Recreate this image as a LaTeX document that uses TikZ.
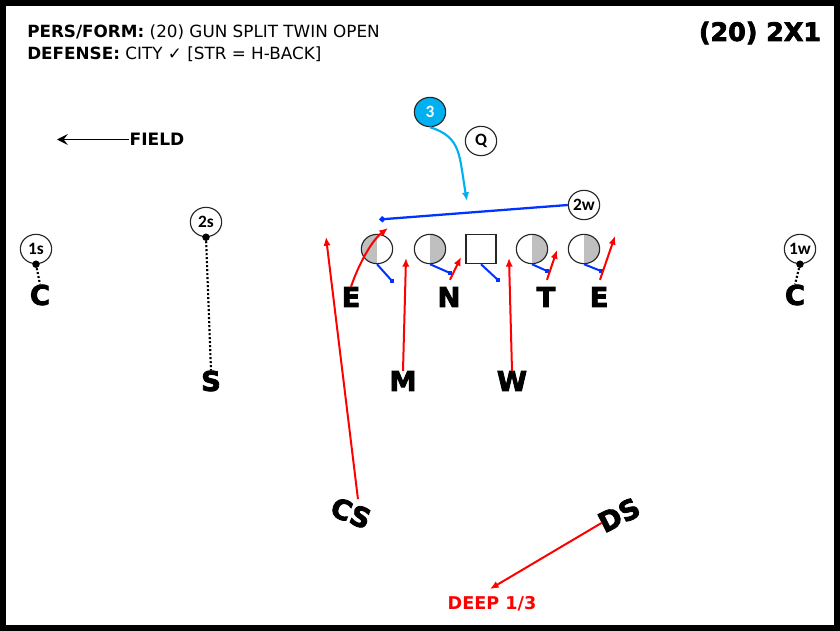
\documentclass[tikz,border=0pt]{standalone}
\usepackage{fontspec}
\setmainfont{DejaVu Sans}
\newfontfamily\circfont{Carlito}
\newfontfamily\heavyfont[FakeBold=3]{DejaVu Sans Bold}
\usetikzlibrary{shapes.geometric,arrows.meta}
\definecolor{routeblue}{HTML}{0033FF}
\definecolor{motioncyan}{HTML}{00B0F0}
\definecolor{halfgray}{HTML}{BFBFBF}
\tikzset{
	player/.style={draw=black!85, ellipse, line width=0.85pt, minimum width=23.5pt, minimum height=22pt, inner sep=0pt, font=\circfont\bfseries\fontsize{13}{13}\selectfont},
	lineman/.style={player, path picture={\fill [halfgray] (path picture bounding box.north) rectangle (path picture bounding box.south #1);}},
	defender/.style={inner sep=0pt, font=\heavyfont\fontsize{20.5}{21}\selectfont},
	block/.style={routeblue, line width=1.5pt},
	blocktip/.style={fill=routeblue, inner sep=0pt, minimum size=3.6pt},
	rush/.style={red, line width=1.5pt, -{Latex[length=6.5pt,width=5.5pt]}},
	release/.style={black, line width=1.6pt, dash pattern=on 1.5pt off 1.5pt},
	headtext/.style={anchor=west, inner sep=0pt, font=\fontsize{12.6}{14}\selectfont}
}
\begin{document}
\begin{tikzpicture}[x=0.75pt, y=-0.75pt, >=latex]
	\useasboundingbox (0,0) rectangle (840,631);
	\fill [white] (0,0) rectangle (840,631);
	\draw [black, line width=4.5pt] (3,3) rectangle (837,628);
	% header
	\node [headtext] (pers) at (27,32) {\textbf{PERS/FORM:} (20) GUN SPLIT TWIN OPEN};
	\node [headtext] (def) at (27,54) {\textbf{DEFENSE:} CITY ✓ [STR = H-BACK]};
	\node [inner sep=0pt, font=\heavyfont\fontsize{19}{22}\selectfont] (pers20) at (760,33) {(20) 2X1};
	\node [inner sep=0pt, font=\bfseries\fontsize{12.8}{13}\selectfont] (field) at (157,139.5) {FIELD};
	\coordinate (fieldtip) at (57,139.5);
	\draw [-{Stealth[length=8pt,width=8pt,inset=3pt]}, line width=1.4pt] (field) -- (fieldtip);
	% offense
	\node [player, fill=motioncyan, text=white] (three) at (430,112) {3};
	\node [player] (q) at (481,141) {Q};
	\node [player] (twow) at (584,205) {2w};
	\node [player] (twos) at (206,222) {2s};
	\node [player] (ones) at (36,249) {1s};
	\node [player] (onew) at (800,249) {1w};
	\node [lineman=west] (lt) at (377,249) {};
	\node [lineman=east] (lg) at (430,249) {};
	\node [draw=black!85, line width=0.85pt, minimum width=22.5pt, minimum height=22pt, inner sep=0pt] (ctr) at (481,249) {};
	\node [lineman=east] (rg) at (532,249) {};
	\node [lineman=east] (rt) at (584,249) {};
	% defense
	\node [defender] (cleft) at (40,295) {C};
	\node [defender] (safety) at (211,381) {S};
	\node [defender] (eleft) at (351,297) {E};
	\node [defender] (mike) at (403,381) {M};
	\node [defender] (nose) at (449,297) {N};
	\node [defender] (will) at (512,381) {W};
	\node [defender] (tackle) at (546,297) {T};
	\node [defender] (eright) at (599,297) {E};
	\node [defender] (cright) at (795,295) {C};
	\node [defender, rotate=-22] (cs) at (351,513) {CS};
	\node [defender, rotate=27] (ds) at (619,515) {DS};
	\node [red, inner sep=0pt, font=\bfseries\fontsize{13.2}{14}\selectfont] (deep) at (492,604) {DEEP 1/3};
	% motion and blocks
	\coordinate (motionend) at (467,201);
	\draw [motioncyan, line width=1.6pt, -{Latex[length=6.5pt,width=5.5pt]}] (three.south) .. controls +(32,10) and +(-8,-45) .. (motionend);
	\coordinate (crack) at (379,219.5);
	\draw [routeblue, line width=1.7pt, -{Diamond[length=5pt,width=5pt]}] (twow.west) -- (crack);
	\node [blocktip] (b1) at (392,281) {};
	\node [blocktip] (b2) at (450,273) {};
	\node [blocktip] (b3) at (498,280) {};
	\node [blocktip] (b4) at (547,271) {};
	\node [blocktip] (b5) at (601,271) {};
	\draw [block] (lt.south) -- (b1.center);
	\draw [block] (lg.south) -- (b2.center);
	\draw [block] (ctr.south) -- (b3.center);
	\draw [block] (rg.south) -- (b4.center);
	\draw [block] (rt.south) -- (b5.center);
	% rushes
	\coordinate (r1) at (388,228);
	\coordinate (r2) at (406,258);
	\coordinate (r3) at (461,257);
	\coordinate (r4) at (509,258);
	\coordinate (r5) at (557,250);
	\coordinate (r6) at (615,236);
	\coordinate (r7) at (326,237);
	\coordinate (r8) at (490,589);
	\draw [rush] (eleft.north) .. controls +(6,-18) and +(-18,14) .. (r1);
	\draw [rush] (mike.north) -- (r2);
	\draw [rush] (nose.north) ++(1,-7) -- (r3);
	\draw [rush] (will.north) -- (r4);
	\draw [rush] (tackle.north) ++(1,-7) -- (r5);
	\draw [rush] (eright.north) ++(1,-7) -- (r6);
	\draw [rush] (cs.north) ++(3,-4) -- (r7);
	\draw [rush] (ds.west) ++(2,-2) -- (r8);
	% alignment
	\fill (ones.south) circle (2.8pt);
	\fill (twos.south) circle (2.8pt);
	\fill (onew.south) circle (2.8pt);
	\draw [release] (ones.south) -- (cleft.north);
	\draw [release] (twos.south) -- (safety.north);
	\draw [release] (onew.south) -- (cright.north);
\end{tikzpicture}
\end{document}
